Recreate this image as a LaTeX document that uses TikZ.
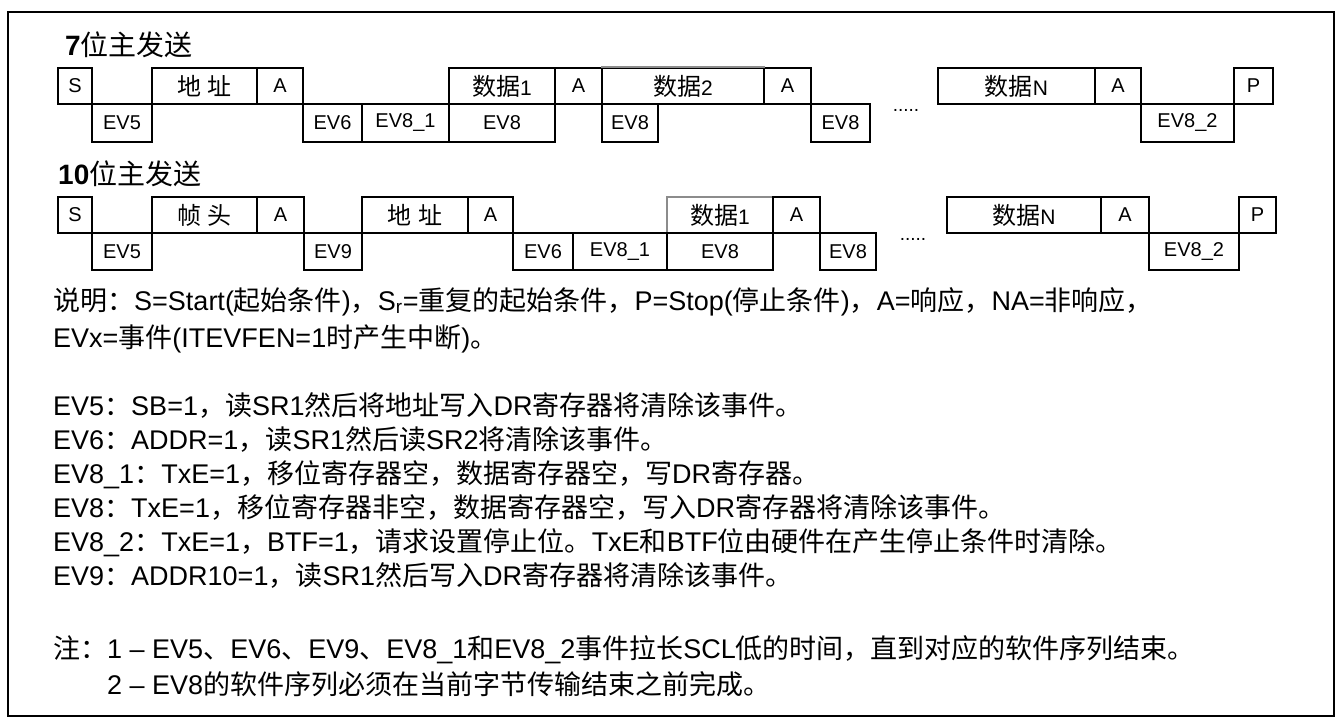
\documentclass[tikz,border=0pt]{standalone}
\usepackage{fontspec}
\setmainfont{Liberation Sans}
\newfontfamily\cjkfont{Noto Sans CJK SC}
\usetikzlibrary{fit}

% switch to the CJK font for Han characters and full-width punctuation
\XeTeXinterchartokenstate=1
\newXeTeXintercharclass\hanclass
\newcount\hancnt
\hancnt="3000
\loop\ifnum\hancnt<"3040 \XeTeXcharclass\hancnt=\hanclass \advance\hancnt by 1 \repeat
\hancnt="4E00
\loop\ifnum\hancnt<"A000 \XeTeXcharclass\hancnt=\hanclass \advance\hancnt by 1 \repeat
\hancnt="FF00
\loop\ifnum\hancnt<"FFF0 \XeTeXcharclass\hancnt=\hanclass \advance\hancnt by 1 \repeat
\XeTeXinterchartoks 0 \hanclass = {\cjkfont}
\XeTeXinterchartoks 4095 \hanclass = {\cjkfont}
\XeTeXinterchartoks \hanclass 0 = {\rmfamily}
\XeTeXinterchartoks \hanclass 4095 = {\rmfamily}

\newcommand{\lat}[1]{{\rmfamily\fontsize{21}{21}\selectfont #1}}

\tikzset{sigbox/.style = {draw, line width=1.6pt, inner sep=0pt}}
\tikzset{boxlabel/.style = {inner sep=0pt, font=\fontsize{20}{20}\selectfont}}
\tikzset{zhlabel/.style = {inner sep=0pt, font=\fontsize{24}{24}\selectfont}}
\tikzset{heading/.style = {anchor=base west, inner sep=0pt, font=\fontsize{28}{28}\selectfont}}
\tikzset{txt/.style = {anchor=base west, inner sep=0pt, font=\fontsize{27}{27}\selectfont}}
\tikzset{dots/.style = {anchor=base, inner sep=0pt, font=\fontsize{19}{19}\selectfont}}

\begin{document}
\begin{tikzpicture}[x=1pt,y=-1pt]
\useasboundingbox (0,0) rectangle (1343,723);
\draw[line width=2.4pt] (8,12) rectangle (1334,716);

% 7 bit
\node[heading] (t7) at (65,55) {\textbf{7}位主发送};

\node[sigbox, fit={(58,68) (92,104)}, label={[boxlabel]center:S}] (a-s) {};
\node[sigbox, fit={(92,104) (152,142)}, label={[boxlabel]center:EV5}] (a-ev5) {};
\node[sigbox, fit={(152,68) (257,104)}, label={[zhlabel]center:地 址}] (a-addr) {};
\node[sigbox, fit={(257,68) (303,104)}, label={[boxlabel]center:A}] (a-a1) {};
\node[sigbox, fit={(303,104) (362,142)}, label={[boxlabel]center:EV6}] (a-ev6) {};
\node[sigbox, fit={(362,104) (449,142)}, label={[boxlabel]center:EV8\_1}] (a-ev81) {};
\node[sigbox, fit={(449,68) (555,104)}, label={[zhlabel]center:数据\lat{1}}] (a-d1) {};
\node[sigbox, fit={(449,104) (555,142)}, label={[boxlabel]center:EV8}] (a-ev8a) {};
\node[sigbox, fit={(555,68) (602,104)}, label={[boxlabel]center:A}] (a-a2) {};
\node[sigbox, fit={(602,68) (764,104)}, label={[zhlabel]center:数据\lat{2}}] (a-d2) {};
\node[sigbox, fit={(602,104) (658,142)}, label={[boxlabel]center:EV8}] (a-ev8b) {};
\node[sigbox, fit={(764,68) (811,104)}, label={[boxlabel]center:A}] (a-a3) {};
\node[sigbox, fit={(811,104) (870,142)}, label={[boxlabel]center:EV8}] (a-ev8c) {};
\node[dots] (a-dots) at (906,111) {.....};
\node[sigbox, fit={(938,68) (1095,104)}, label={[zhlabel]center:数据\lat{N}}] (a-dn) {};
\node[sigbox, fit={(1095,68) (1141,104)}, label={[boxlabel]center:A}] (a-a4) {};
\node[sigbox, fit={(1141,104) (1234,142)}, label={[boxlabel]center:EV8\_2}] (a-ev82) {};
\node[sigbox, fit={(1234,68) (1273,104)}, label={[boxlabel]center:P}] (a-p) {};
\draw[black!45, line width=1.6pt] (a-d2.north west) -- (a-d2.north east);

% 10 bit
\node[heading] (t10) at (58,184) {\textbf{10}位主发送};

\node[sigbox, fit={(58,197) (92,233)}, label={[boxlabel]center:S}] (b-s) {};
\node[sigbox, fit={(92,233) (152,270)}, label={[boxlabel]center:EV5}] (b-ev5) {};
\node[sigbox, fit={(152,197) (257,233)}, label={[zhlabel]center:帧 头}] (b-head) {};
\node[sigbox, fit={(257,197) (304,233)}, label={[boxlabel]center:A}] (b-a1) {};
\node[sigbox, fit={(304,233) (362,270)}, label={[boxlabel]center:EV9}] (b-ev9) {};
\node[sigbox, fit={(362,197) (468,233)}, label={[zhlabel]center:地 址}] (b-addr) {};
\node[sigbox, fit={(468,197) (513,233)}, label={[boxlabel]center:A}] (b-a2) {};
\node[sigbox, fit={(513,233) (573,270)}, label={[boxlabel]center:EV6}] (b-ev6) {};
\node[sigbox, fit={(573,233) (667,270)}, label={[boxlabel]center:EV8\_1}] (b-ev81) {};
\node[sigbox, draw=black!45, fit={(667,197) (773,233)}, label={[zhlabel]center:数据\lat{1}}] (b-d1) {};
\node[sigbox, fit={(667,233) (773,270)}, label={[boxlabel]center:EV8}] (b-ev8a) {};
\node[sigbox, fit={(773,197) (820,233)}, label={[boxlabel]center:A}] (b-a3) {};
\node[sigbox, fit={(820,233) (876,270)}, label={[boxlabel]center:EV8}] (b-ev8b) {};
\node[dots] (b-dots) at (913,240) {.....};
\node[sigbox, fit={(947,197) (1101,233)}, label={[zhlabel]center:数据\lat{N}}] (b-dn) {};
\node[sigbox, fit={(1101,197) (1149,233)}, label={[boxlabel]center:A}] (b-a4) {};
\node[sigbox, fit={(1149,233) (1239,270)}, label={[boxlabel]center:EV8\_2}] (b-ev82) {};
\node[sigbox, fit={(1239,197) (1276,233)}, label={[boxlabel]center:P}] (b-p) {};

% notes
\node[txt] (n1) at (53,310) {说明：S=Start(起始条件)，S\textsubscript{r}=重复的起始条件，P=Stop(停止条件)，A=响应，NA=非响应，};
\node[txt] (n2) at (53,347) {EVx=事件(ITEVFEN=1时产生中断)。};

\node[txt] (e5) at (53,415) {EV5：SB=1，读SR1然后将地址写入DR寄存器将清除该事件。};
\node[txt] (e6) at (53,449) {EV6：ADDR=1，读SR1然后读SR2将清除该事件。};
\node[txt] (e81) at (53,483) {EV8\_1：TxE=1，移位寄存器空，数据寄存器空，写DR寄存器。};
\node[txt] (e8) at (53,517) {EV8：TxE=1，移位寄存器非空，数据寄存器空，写入DR寄存器将清除该事件。};
\node[txt] (e82) at (53,551) {EV8\_2：TxE=1，BTF=1，请求设置停止位。TxE和BTF位由硬件在产生停止条件时清除。};
\node[txt] (e9) at (53,585) {EV9：ADDR10=1，读SR1然后写入DR寄存器将清除该事件。};

\node[txt] (z1) at (53,658) {注：1 – EV5、EV6、EV9、EV8\_1和EV8\_2事件拉长SCL低的时间，直到对应的软件序列结束。};
\node[txt] (z2) at (107,694) {2 – EV8的软件序列必须在当前字节传输结束之前完成。};
\end{tikzpicture}
\end{document}
